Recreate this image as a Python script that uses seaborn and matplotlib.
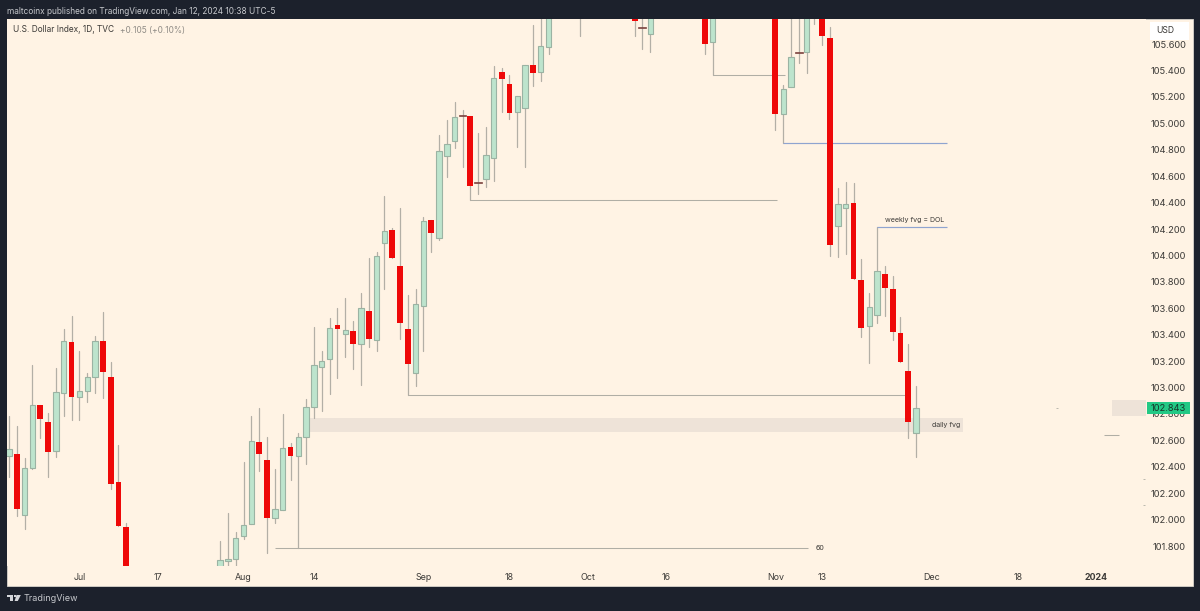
"""
U.S. Dollar Index daily candles, TradingView snapshot look.
Bars above or below the visible price range are left out.
"""

import matplotlib
matplotlib.use("Agg")
import matplotlib.pyplot as plt
from matplotlib.patches import Polygon, Rectangle
import pandas as pd
import seaborn as sns

# trading day number, counted from the first bar on the chart
days = [0, 1, 2, 3, 4, 5, 6, 7, 8, 9, 10, 11, 12, 13, 14, 15,
        27, 28, 29, 30, 31, 32, 33, 34, 35, 36, 37, 38, 39,
        40, 41, 42, 43, 44, 45, 46, 47, 48, 49,
        50, 51, 52, 53, 54, 55, 56, 57, 58, 59,
        60, 61, 62, 63, 64, 65, 66, 67, 68, 69,
        73, 80, 81, 82, 89, 90, 98, 99,
        100, 101, 102, 103, 104, 105, 106, 107, 108, 109,
        110, 111, 112, 113, 114, 115, 116]
opens = [102.482, 102.497, 102.033, 102.389, 102.868, 102.739, 102.518, 102.959, 103.345, 102.926,
         102.974, 103.078, 103.353, 103.080, 102.287, 101.942,
         101.550, 101.685, 101.702, 101.876, 101.965, 102.586, 102.452, 102.010, 102.071, 102.548, 102.484, 102.624, 102.855,
         103.154, 103.214, 103.476, 103.403, 103.431, 103.328, 103.582, 103.358, 104.097, 104.191,
         103.920, 103.443, 103.108, 103.620, 104.266, 104.130, 104.753, 104.864, 105.063, 105.056,
         104.554, 104.579, 104.740, 105.387, 105.298, 105.086, 105.114, 105.440, 105.389, 105.576,
         105.850, 105.850, 105.730, 105.679, 105.950, 105.618, 105.950, 105.071,
         105.273, 105.538, 105.538, 105.850, 105.950, 105.649, 104.221, 104.362, 104.400, 103.817,
         103.468, 103.552, 103.858, 103.749, 103.415, 103.128, 102.658]
closes = [102.535, 102.083, 102.394, 102.870, 102.760, 102.512, 102.969, 103.355, 102.926, 102.974,
          103.078, 103.350, 103.116, 102.272, 101.954, 101.500,
          101.695, 101.699, 101.859, 101.960, 102.598, 102.495, 102.013, 102.079, 102.540, 102.482, 102.624, 102.853, 103.169,
          103.201, 103.449, 103.441, 103.434, 103.330, 103.605, 103.370, 103.996, 104.188, 103.981,
          103.489, 103.176, 103.635, 104.263, 104.168, 104.791, 104.842, 105.051, 105.056, 104.528,
          104.547, 104.758, 105.344, 105.336, 105.079, 105.207, 105.444, 105.384, 105.584, 105.950,
          105.950, 105.777, 105.723, 105.950, 105.599, 105.950, 105.073, 105.263,
          105.505, 105.531, 105.950, 105.950, 105.664, 104.077, 104.390, 104.392, 103.820, 103.449,
          103.610, 103.883, 103.754, 103.418, 103.194, 102.742, 102.843]
highs = [102.787, 102.709, 102.469, 103.169, 102.868, 102.805, 103.146, 103.441, 103.544, 103.277,
         103.113, 103.390, 103.574, 103.191, 102.568, 101.975,
         101.841, 102.051, 101.904, 102.434, 102.785, 102.848, 102.624, 102.386, 102.798, 102.583, 102.654, 102.914, 103.461,
         103.279, 103.529, 103.600, 103.680, 103.502, 103.718, 103.983, 104.029, 104.450, 104.210,
         104.357, 103.701, 103.744, 104.294, 104.266, 104.912, 105.026, 105.160, 105.101, 105.056,
         104.925, 104.970, 105.437, 105.417, 105.364, 105.207, 105.444, 105.742, 105.850, 106.000,
         106.000, 105.900, 105.850, 106.000, 106.000, 106.000, 106.000, 105.291,
         106.000, 106.000, 106.000, 106.000, 106.000, 105.732, 104.513, 104.559, 104.551, 103.976,
         103.714, 104.218, 103.923, 103.847, 103.537, 103.330, 103.012]
lows = [102.325, 102.028, 101.927, 102.384, 102.616, 102.325, 102.472, 102.787, 102.755, 102.755,
        102.889, 102.959, 102.923, 102.232, 101.954, 101.450,
        101.500, 101.600, 101.642, 101.856, 101.965, 102.369, 101.750, 101.973, 102.071, 102.300, 101.788, 102.424, 102.770,
        102.823, 102.949, 103.070, 103.229, 103.141, 103.017, 103.310, 103.277, 103.746, 103.981,
        103.370, 102.944, 103.014, 103.277, 104.029, 104.117, 104.596, 104.811, 104.672, 104.422,
        104.463, 104.521, 104.564, 105.088, 105.031, 104.823, 104.668, 105.283, 105.321, 105.523,
        105.664, 105.664, 105.561, 105.538, 105.523, 105.366, 104.948, 104.854,
        105.273, 105.455, 105.384, 105.752, 105.593, 103.996, 103.986, 104.011, 103.820, 103.381,
        103.184, 103.487, 103.542, 103.360, 103.194, 102.616, 102.472]

tick_days = [9, 19, 30, 39, 53, 64, 74, 84, 98, 104, 118, 129, 139]
tick_labels = ["Jul", "17", "Aug", "14", "Sep", "18", "Oct", "16", "Nov", "13", "Dec", "18", "2024"]
price_ticks = [101.8, 102.0, 102.2, 102.4, 102.6, 102.8, 103.0, 103.2, 103.4,
               103.6, 103.8, 104.0, 104.2, 104.4, 104.6, 104.8, 105.0, 105.2, 105.4, 105.6]

# drawings on the chart: price, first day, last day
grey_levels = [(101.786, 34, 102.2), (102.942, 51, 115), (104.420, 59, 98.2), (105.366, 90, 99.2), (102.639, 140, 142)]
blue_levels = [(104.851, 99, 120), (104.218, 111, 120)]
fvg_zones = [(102.661, 102.772, 38.5, 122), (102.785, 102.906, 141, 145.4)]

FRAME = "#1c212c"
CREAM = "#fff3e4"
RED = "#ee0808"
GREEN = "#bde4cd"
GREEN_EDGE = "#9bb3a3"
WICK = "#b3afa6"
GREY_LINE = "#b0aea5"
BLUE_LINE = "#8fa4d0"
ZONE = "#eee3d8"
INK = "#3d3b38"

W, H = 1200, 611


def fx(px):
    return px / W


def fy(px):
    return 1 - px / H


def draw_candles(ax, df):
    wicks = pd.concat([
        df[["day", "high"]].rename(columns={"high": "price"}),
        df[["day", "low"]].rename(columns={"low": "price"}),
    ])
    sns.lineplot(data=wicks, x="day", y="price", units="day", estimator=None,
                 color=WICK, linewidth=0.9, legend=False, ax=ax, zorder=2)

    df = df.assign(body_low=df[["open", "close"]].min(axis=1),
                   body=(df["close"] - df["open"]).abs())
    up = df[(df["close"] > df["open"]) & (df["body"] > 0.012)]
    down = df[(df["close"] < df["open"]) & (df["body"] > 0.012)]
    doji = df[df["body"] <= 0.012]

    sns.barplot(data=up, x="day", y="body", bottom=up["body_low"], native_scale=True,
                width=0.68, color=GREEN, edgecolor=GREEN_EDGE, linewidth=0.8,
                saturation=1, errorbar=None, ax=ax, zorder=3)
    sns.barplot(data=down, x="day", y="body", bottom=down["body_low"], native_scale=True,
                width=0.75, color=RED, linewidth=0,
                saturation=1, errorbar=None, ax=ax, zorder=3)
    sns.barplot(data=doji, x="day", y="body", bottom=doji["body_low"], native_scale=True,
                width=0.5, color="#7d4440", edgecolor="#7d4440", linewidth=0.5,
                saturation=1, errorbar=None, ax=ax, zorder=3)


def draw_frame(fig):
    # cream pane behind the axes, overlays in front of the tick labels
    fig.add_artist(Rectangle((fx(7), fy(586)), fx(1186), 567 / H, transform=fig.transFigure,
                             facecolor=CREAM, edgecolor="#d8d4cc", linewidth=0.6, zorder=-1))
    fig.add_artist(Rectangle((fx(1150), fy(39.5)), fx(39), 17 / H, transform=fig.transFigure,
                             facecolor="white", edgecolor="none", zorder=2))
    fig.add_artist(Rectangle((fx(1146.5), fy(414)), fx(43.5), 12 / H, transform=fig.transFigure,
                             facecolor="#22c985", edgecolor="none", zorder=2))

    fig.text(fx(1186), fy(408.3), "102.843", color="#16382a", fontsize=6.7, ha="right", va="center", zorder=3)
    fig.text(fx(1156), fy(30.5), "USD", color=INK, fontsize=6.2, ha="left", va="center", zorder=3)
    fig.text(fx(7), fy(11), "maltcoinx published on TradingView.com, Jan 12, 2024 10:38 UTC-5",
             color="#c6c8cc", fontsize=6.0, ha="left", va="center")
    fig.text(fx(13), fy(30), "U.S. Dollar Index, 1D, TVC", color=INK, fontsize=6.0, ha="left", va="center")
    fig.text(fx(120), fy(30), "+0.105 (+0.10%)", color="#8f8b85", fontsize=6.0, ha="left", va="center")
    fig.text(fx(24), fy(598.5), "TradingView", color="#c6c8cc", fontsize=6.5, ha="left", va="center")

    # logo
    for pts in ([(7, 595), (12.8, 595), (12.8, 601), (10, 601), (10, 597.4), (7, 597.4)],
                [(16.5, 595), (20.8, 595), (17.8, 601), (14.6, 601)]):
        fig.add_artist(Polygon([(fx(x), fy(y)) for x, y in pts], closed=True,
                               transform=fig.transFigure, facecolor="#d4d6da", edgecolor="none"))
    fig.add_artist(Rectangle((fx(13.6), fy(597.2)), fx(2.2), 2.2 / H, transform=fig.transFigure,
                             facecolor="#d4d6da", edgecolor="none"))


def main():
    sns.set_theme(style="white", rc={"axes.facecolor": CREAM, "figure.facecolor": FRAME})
    plt.rcParams["font.family"] = ["Inter", "DejaVu Sans"]

    candles = pd.DataFrame({"day": days, "open": opens, "high": highs, "low": lows, "close": closes})

    fig = plt.figure(figsize=(W / 100, H / 100), dpi=100)
    ax = fig.add_axes([fx(7), fy(566), fx(1139), 547 / H])

    for low, high, start, end in fvg_zones:
        ax.fill_between([start, end], low, high, color=ZONE, linewidth=0, zorder=1)

    draw_candles(ax, candles)

    for price, start, end in grey_levels:
        ax.hlines(price, start, end, color=GREY_LINE, linewidth=0.75, zorder=2.5)
    for price, start, end in blue_levels:
        ax.hlines(price, start, end, color=BLUE_LINE, linewidth=0.85, zorder=2.5)

    ax.text(103.2, 101.786, "60", fontsize=5.2, color=INK, va="center")
    ax.text(112, 104.269, "weekly fvg = DOL", fontsize=5.1, color=INK, va="center")
    ax.text(118, 102.717, "daily fvg", fontsize=5.1, color=INK, va="center", zorder=4)

    # stray specks left over from the drawings
    ax.plot([134, 145.1, 145.2], [102.845, 102.308, 102.111], ls="none", marker="_",
            ms=2, mew=0.6, color=GREY_LINE)

    ax.set_xlim(-0.256, 145.4)
    ax.set_ylim(101.649, 105.790)
    ax.set_xlabel("")
    ax.set_ylabel("")

    ax.yaxis.tick_right()
    ax.set_yticks(price_ticks, [f"{p:.3f}" for p in price_ticks], ha="right", color=INK, fontsize=6.7)
    ax.tick_params(axis="y", length=0, pad=28.8)
    ax.set_xticks(tick_days, tick_labels, color=INK, fontsize=6.4)
    ax.tick_params(axis="x", length=0, pad=5)
    ax.get_xticklabels()[-1].set_fontweight("bold")
    sns.despine(ax=ax, left=True, bottom=True, right=True, top=True)
    ax.grid(False)

    draw_frame(fig)
    fig.savefig("out.png", dpi=100, facecolor=FRAME)
    plt.close(fig)


if __name__ == "__main__":
    main()
